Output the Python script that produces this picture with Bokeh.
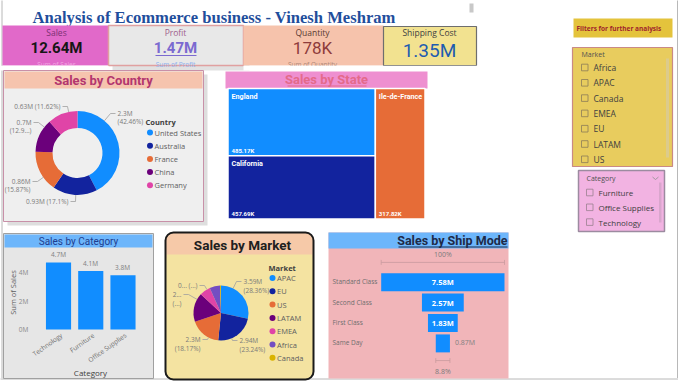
import numpy as np
from bokeh.plotting import figure
from bokeh.models import Range1d
from bokeh.core.properties import value
from bokeh.embed import file_html
from bokeh.resources import INLINE

# ---------------- data ----------------
kpi_names = ["Sales", "Profit", "Quantity", "Shipping Cost"]
kpi_values = ["12.64M", "1.47M", "178K", "1.35M"]
kpi_subs = ["Sum of Sales", "Sum of Profit", "Sum of Quantity", ""]

country_names = ["United States", "Australia", "France", "China", "Germany"]
country_sales = [2.30, 0.93, 0.86, 0.70, 0.63]          # millions
country_labels = [["2.3M", "(42.46%)"], ["0.93M (17.1%)"], ["0.86M", "(15.87%)"],
                  ["0.7M", "(12.9...)"], ["0.63M (11.62%)"]]

state_names = ["England", "California", "Ile-de-France"]
state_sales = [485.17, 457.69, 317.82]                   # thousands
state_labels = ["485.17K", "457.69K", "317.82K"]

market_names = ["APAC", "EU", "US", "LATAM", "EMEA", "Africa", "Canada"]
market_sales = [3.59, 2.94, 2.30, 2.16, 0.81, 0.78, 0.07]  # millions
market_labels = [["3.59M", "(28.36%)"], ["2.94M", "(23.24%)"], ["2.3M", "(18.17%)"],
                 ["2...", "(...)"], ["0... (...)"]]

category_names = ["Technology", "Furniture", "Office Supplies"]
category_sales = [4.7, 4.1, 3.8]                          # millions
category_ticks = [0, 2, 4]

ship_modes = ["Standard Class", "Second Class", "First Class", "Same Day"]
ship_sales = [7.58, 2.57, 1.83, 0.87]                     # millions
ship_top_label = "100%"
ship_bottom_label = "8.8%"

slicer_markets = ["Africa", "APAC", "Canada", "EMEA", "EU", "LATAM", "US"]
slicer_categories = ["Furniture", "Office Supplies", "Technology"]

# ---------------- styles / layout ----------------
PBI = ["#118DFF", "#12239E", "#E66C37", "#6B007B", "#E044A7", "#744EC2", "#D9B300"]
SEG = "Open Sans"
DIN = "Roboto"
SER = "Liberation Serif"
W, H = 680, 381


def Y(y):
    return H - y


p = figure(width=W, height=H, x_range=Range1d(0, W), y_range=Range1d(0, H),
           min_border=0, toolbar_location=None, output_backend="svg")
p.xaxis.visible = False
p.yaxis.visible = False
p.xgrid.visible = False
p.ygrid.visible = False
p.outline_line_color = None
p.background_fill_color = "white"
p.border_fill_color = "white"


def box(l, t, r, b, fill, line=None, lw=1.0, alpha=1.0, radius=None):
    kw = {}
    if radius is not None:
        kw["border_radius"] = radius
    p.quad(left=[l], right=[r], top=[Y(t)], bottom=[Y(b)], fill_color=fill,
           fill_alpha=alpha, line_color=line, line_width=lw, **kw)


def txt(x, y, s, size, color, font=SEG, align="left", bold=False, angle=0.0,
        baseline="middle"):
    p.text(x=[x], y=[Y(y)], text=[s], text_font=value(font),
           text_font_size=f"{size}px", text_color=color, text_align=align,
           text_baseline=baseline, text_font_style="bold" if bold else "normal",
           angle=angle)


def seg(xs, ys, color, lw=1.0, dash="solid"):
    p.line(x=list(xs), y=[Y(v) for v in ys], line_color=color, line_width=lw,
           line_dash=dash)


# ---------------- page frame ----------------
seg([1.5, 1.5], [0, 378], "#707070", 1, "1 1")
seg([0, 677], [378.5, 378.5], "#707070", 1, "1 1")
seg([677, 677], [0, 378], "#707070", 1, "1 1")
box(469, 3, 473, 12, "#C8C8C8")

# title
txt(32, 16.5, "Analysis of Ecommerce business - Vinesh Meshram", 16.6, "#1F4E9C",
    font=SER, bold=True, baseline="alphabetic")

# ---------------- KPI cards ----------------
box(112, 29, 249, 70, "#D4D4D4", alpha=0.7)
box(2, 25, 109, 65, "#E169C9")
box(108, 25, 243, 65, "#E8E8E8", line="#E0A0A0", lw=1.5)
box(243, 25, 383, 65, "#F6C3AC")
box(383, 26, 476, 65, "#F2E290", line="#6E6E6E", lw=1.2)

kpi_x = [56, 175, 312, 429]
kpi_label_col = ["#7A3072", "#A0608C", "#5A3A32", "#404040"]
kpi_val_col = ["#161616", "#7B6AD0", "#8E3B3B", "#1E5CB0"]
kpi_val_y = [47, 47, 47, 50]
kpi_val_size = [15, 15, 17, 19]
kpi_val_bold = [True, True, False, False]
kpi_sub_col = ["#F2A6E2", "#8FB2F0", "#B08878", "#000000"]
for i in range(4):
    txt(kpi_x[i], 32, kpi_names[i], 8.5, kpi_label_col[i], font=SEG, align="center")
    txt(kpi_x[i], kpi_val_y[i], kpi_values[i], kpi_val_size[i], kpi_val_col[i],
        font=DIN, align="center", bold=kpi_val_bold[i])
    if kpi_subs[i]:
        txt(kpi_x[i], 63.5, kpi_subs[i], 6.5, kpi_sub_col[i], font=SEG, align="center")
seg([155, 196], [55, 55], "#7B6AD0", 1.2)
box(0, 65.3, 108, 70, "white")
box(243, 65.3, 480, 70, "white")

# ---------------- Sales by Country ----------------
box(7, 74, 207, 225, "#BDBDBD", alpha=0.5)
box(3, 70, 203, 221, "#EFEFEF", line="#C890A8", lw=1)
box(4, 71, 202, 88, "#F6C4AE")
txt(103, 79.5, "Sales by Country", 13, "#B3366E", font=DIN, bold=True, align="center")

ccx, ccy, c_ro, c_ri = 77, 152.5, 42, 25
fr = np.array(country_sales) / sum(country_sales)
ce = np.cumsum(fr)
cs = ce - fr
p.annular_wedge(x=ccx, y=Y(ccy), inner_radius=c_ri, outer_radius=c_ro,
                start_angle=np.pi / 2 - 2 * np.pi * ce,
                end_angle=np.pi / 2 - 2 * np.pi * cs,
                fill_color=PBI[:len(country_names)], line_color=None)

country_elbows = [(110, 113, 1), (75, 201, -1), (37, 181, -1), (38, 122, -1), (67, 106, -1)]


def leaders(cx, cy, r, elbows, labels, color, size, gap=8):
    for (ex, ey, side), lab in zip(elbows, labels):
        dx, dy = ex - cx, ey - cy
        d = np.hypot(dx, dy)
        px, py = cx + dx / d * r, cy + dy / d * r
        seg([px, ex, ex + side * 5], [py, ey, ey], "#A0A0A0", 0.8)
        for k, line in enumerate(lab):
            txt(ex + side * 7, ey + k * gap, line, size, color, font=SEG,
                align="left" if side > 0 else "right")


leaders(ccx, ccy, c_ro, country_elbows, country_labels, "#7A7A7A", 6.5)

txt(145, 121, "Country", 7.5, "#404040", font=SEG, bold=True)
for i, n in enumerate(country_names):
    yy = 132 + i * 13.2
    p.scatter(x=[149.5], y=[Y(yy)], size=6, fill_color=PBI[i], line_color=None)
    txt(154, yy, n, 7.5, "#606060", font=SEG)

# ---------------- Sales by State (treemap) ----------------
box(225, 71, 427, 88, "#EE8FD0")
txt(326, 78.5, "Sales by State", 13, "#E46A8A", font=DIN, bold=True, align="center")
seg([287, 366], [85.5, 85.5], "#E46A8A", 1.2)

T = sum(state_sales)
col1 = state_sales[0] + state_sales[1]
w1 = col1 / T
h1 = state_sales[0] / col1
tm_left = [0, 0, w1]
tm_right = [w1, w1, 1]
tm_bottom = [1 - h1, 0, 0]
tm_top = [1, 1 - h1, 1]
sub_tm = p.subplot(x_source=Range1d(0, 1), y_source=Range1d(0, 1),
                   x_target=Range1d(227.5, 424.5), y_target=Range1d(Y(218.5), Y(88)))
sub_tm.quad(left=tm_left, right=tm_right, bottom=tm_bottom, top=tm_top,
            fill_color=[PBI[0], PBI[1], PBI[2]], line_color="white", line_width=1.5)
sub_tm.text(x=tm_left, y=tm_top, text=state_names, x_offset=3.5, y_offset=7.5,
            text_font=value(DIN), text_font_size="7.2px", text_color="white",
            text_font_style="bold", text_baseline="middle")
sub_tm.text(x=tm_left, y=tm_bottom, text=state_labels, x_offset=3.5, y_offset=-5.5,
            text_font=value(DIN), text_font_size="6px", text_color="white",
            text_font_style="bold", text_baseline="middle")

# ---------------- Filters ----------------
box(573, 18, 672, 37, "#E4C33C")
txt(576, 27.5, "Filters for further analysis", 6.5, "#A0262B", font=SEG, bold=True)

box(572, 47, 672, 166, "#E8CC5E", line="#C98A86", lw=1.2)
box(665.5, 58, 668.5, 157, "#DCCB8C")
txt(581, 53.5, "Market", 7, "#505050", font=SEG)
for i, m in enumerate(slicer_markets):
    yy = 67 + i * 15.3
    p.quad(left=[581], right=[587.5], top=[Y(yy - 3.3)], bottom=[Y(yy + 3.3)],
           fill_color=None, line_color="#8C7C58", line_width=0.8)
    txt(593, yy, m, 8.5, "#404040", font=SEG)

box(578, 170, 664, 231, "#F2B3E2", line="#9C8BA0", lw=1.5)
box(658.5, 182, 661, 222, "#D9A6CD")
txt(586, 178, "Category", 7, "#505050", font=SEG)
seg([652, 655, 658], [176.5, 179, 176.5], "#909090", 0.8)
for i, c in enumerate(slicer_categories):
    yy = 192 + i * 14.8
    p.quad(left=[586], right=[592.5], top=[Y(yy - 3.3)], bottom=[Y(yy + 3.3)],
           fill_color=None, line_color="#9A8090", line_width=0.8)
    txt(598, yy, c, 8, "#404040", font=SEG)

# ---------------- Sales by Category ----------------
box(3, 233, 153, 378, "#E6E6E6", line="#A0A0A0", lw=1)
box(4, 234, 152, 247, "#6DB6FB")
txt(78, 240.5, "Sales by Category", 10, "#1F3D8F", font=DIN, align="center")

idx = np.arange(len(category_names))
sub_cat = p.subplot(x_source=Range1d(-0.5, 2.5), y_source=Range1d(0, 4),
                    x_target=Range1d(41.9, 138.6), y_target=Range1d(Y(329), Y(272)))
sub_cat.quad(left=idx - 0.39, right=idx + 0.39, bottom=0, top=category_sales,
             fill_color="#118DFF", line_color=None)
sub_cat.text(x=idx, y=category_sales, text=[f"{v}M" for v in category_sales],
             y_offset=-8, text_font=value(SEG), text_font_size="6.5px",
             text_color="#808080", text_align="center", text_baseline="middle")
sub_cat.text(x=[-0.5] * len(category_ticks), y=category_ticks,
             text=[f"{t}M" for t in category_ticks], x_offset=-14,
             text_font=value(SEG), text_font_size="6.5px", text_color="#8A8A8A",
             text_align="right", text_baseline="middle")
sub_cat.text(x=idx, y=[0] * len(idx), text=category_names, x_offset=3, y_offset=5,
             angle=0.62, text_font=value(SEG), text_font_size="6.5px",
             text_color="#707070", text_align="right", text_baseline="middle")
txt(12, 292, "Sum of Sales", 7.5, "#606060", font=SEG, align="center", angle=np.pi / 2)
txt(90, 372, "Category", 8, "#404040", font=SEG, align="center")

# ---------------- Sales by Market ----------------
box(165, 232, 313, 379, "#F4E3A1", radius=8)
box(165, 232, 313, 262, "#F6C9A8", radius=8)
box(166, 254, 312, 263, "#F4E3A1")
box(165, 232, 313, 379, None, line="#1A1A1A", lw=2, radius=8)
txt(242, 244, "Sales by Market", 13.5, "#202020", font=DIN, bold=True, align="center")

mcx, mcy, m_r = 220.5, 312.5, 27.5
mf = np.array(market_sales) / sum(market_sales)
me = np.cumsum(mf)
ms = me - mf
p.wedge(x=mcx, y=Y(mcy), radius=m_r,
        start_angle=np.pi / 2 - 2 * np.pi * me,
        end_angle=np.pi / 2 - 2 * np.pi * ms,
        fill_color=PBI[:len(market_names)], line_color=None)
market_elbows = [(236, 281, 1), (232, 340, 1), (207, 339, -1), (188, 294, -1), (204, 285, -1)]
leaders(mcx, mcy, m_r, market_elbows, market_labels, "#7A7A7A", 6.5, gap=8.5)

txt(268, 267, "Market", 7.5, "#404040", font=SEG, bold=True)
for i, n in enumerate(market_names):
    yy = 277.5 + i * 13.3
    p.scatter(x=[272], y=[Y(yy)], size=6, fill_color=PBI[i], line_color=None)
    txt(276.5, yy, n, 7.5, "#606060", font=SEG)

# ---------------- Sales by Ship Mode (funnel) ----------------
box(328, 232, 508, 378, "#F1B5B9")
box(328, 232, 508, 248, "#6DB6FB")
txt(507, 239.5, "Sales by Ship Mode", 12.5, "#1E2A48", font=DIN, bold=True, align="right")
seg([398, 507], [246.5, 246.5], "#1E2A48", 1.2)

vmax = max(ship_sales)
sv = np.array(ship_sales)
si = np.arange(len(ship_modes))
sub_sh = p.subplot(x_source=Range1d(-vmax / 2, vmax / 2), y_source=Range1d(-0.5, 3.5),
                   x_target=Range1d(380.7, 504), y_target=Range1d(Y(271.5), Y(353.1)))
sub_sh.quad(left=-sv / 2, right=sv / 2, top=si - 0.44, bottom=si + 0.44,
            fill_color="#118DFF", line_color=None)
inside = sv / vmax * 123 > 25
sub_sh.text(x=[0] * int(inside.sum()), y=si[inside], text=[f"{v}M" for v in sv[inside]],
            text_font=value(SEG), text_font_size="7.5px", text_color="white",
            text_font_style="bold", text_align="center", text_baseline="middle")
sub_sh.text(x=sv[~inside] / 2, y=si[~inside], text=[f"{v}M" for v in sv[~inside]],
            x_offset=5, text_font=value(SEG), text_font_size="7px", text_color="#808080",
            text_align="left", text_baseline="middle")
sub_sh.text(x=[-vmax / 2] * len(si), y=si, text=ship_modes, x_offset=-48.7,
            text_font=value(SEG), text_font_size="6.5px", text_color="#6E6E6E",
            text_align="left", text_baseline="middle")
# top & bottom brackets
ty, by = -0.97, 3.84
sub_sh.multi_line(xs=[[-sv[0] / 2, sv[0] / 2], [-sv[0] / 2, -sv[0] / 2], [sv[0] / 2, sv[0] / 2],
                      [-sv[-1] / 2, sv[-1] / 2], [-sv[-1] / 2, -sv[-1] / 2], [sv[-1] / 2, sv[-1] / 2]],
                  ys=[[ty, ty], [ty - 0.12, ty + 0.12], [ty - 0.12, ty + 0.12],
                      [by, by], [by - 0.12, by + 0.12], [by - 0.12, by + 0.12]],
                  line_color="#C99A9E", line_width=0.8)
sub_sh.text(x=[0, 0], y=[ty, by], text=[ship_top_label, ship_bottom_label],
            y_offset=[-8, 11], text_font=value(SEG), text_font_size="7px",
            text_color="#7A7A7A", text_align="center", text_baseline="middle")

open("out.html", "w").write(file_html(p, INLINE))
